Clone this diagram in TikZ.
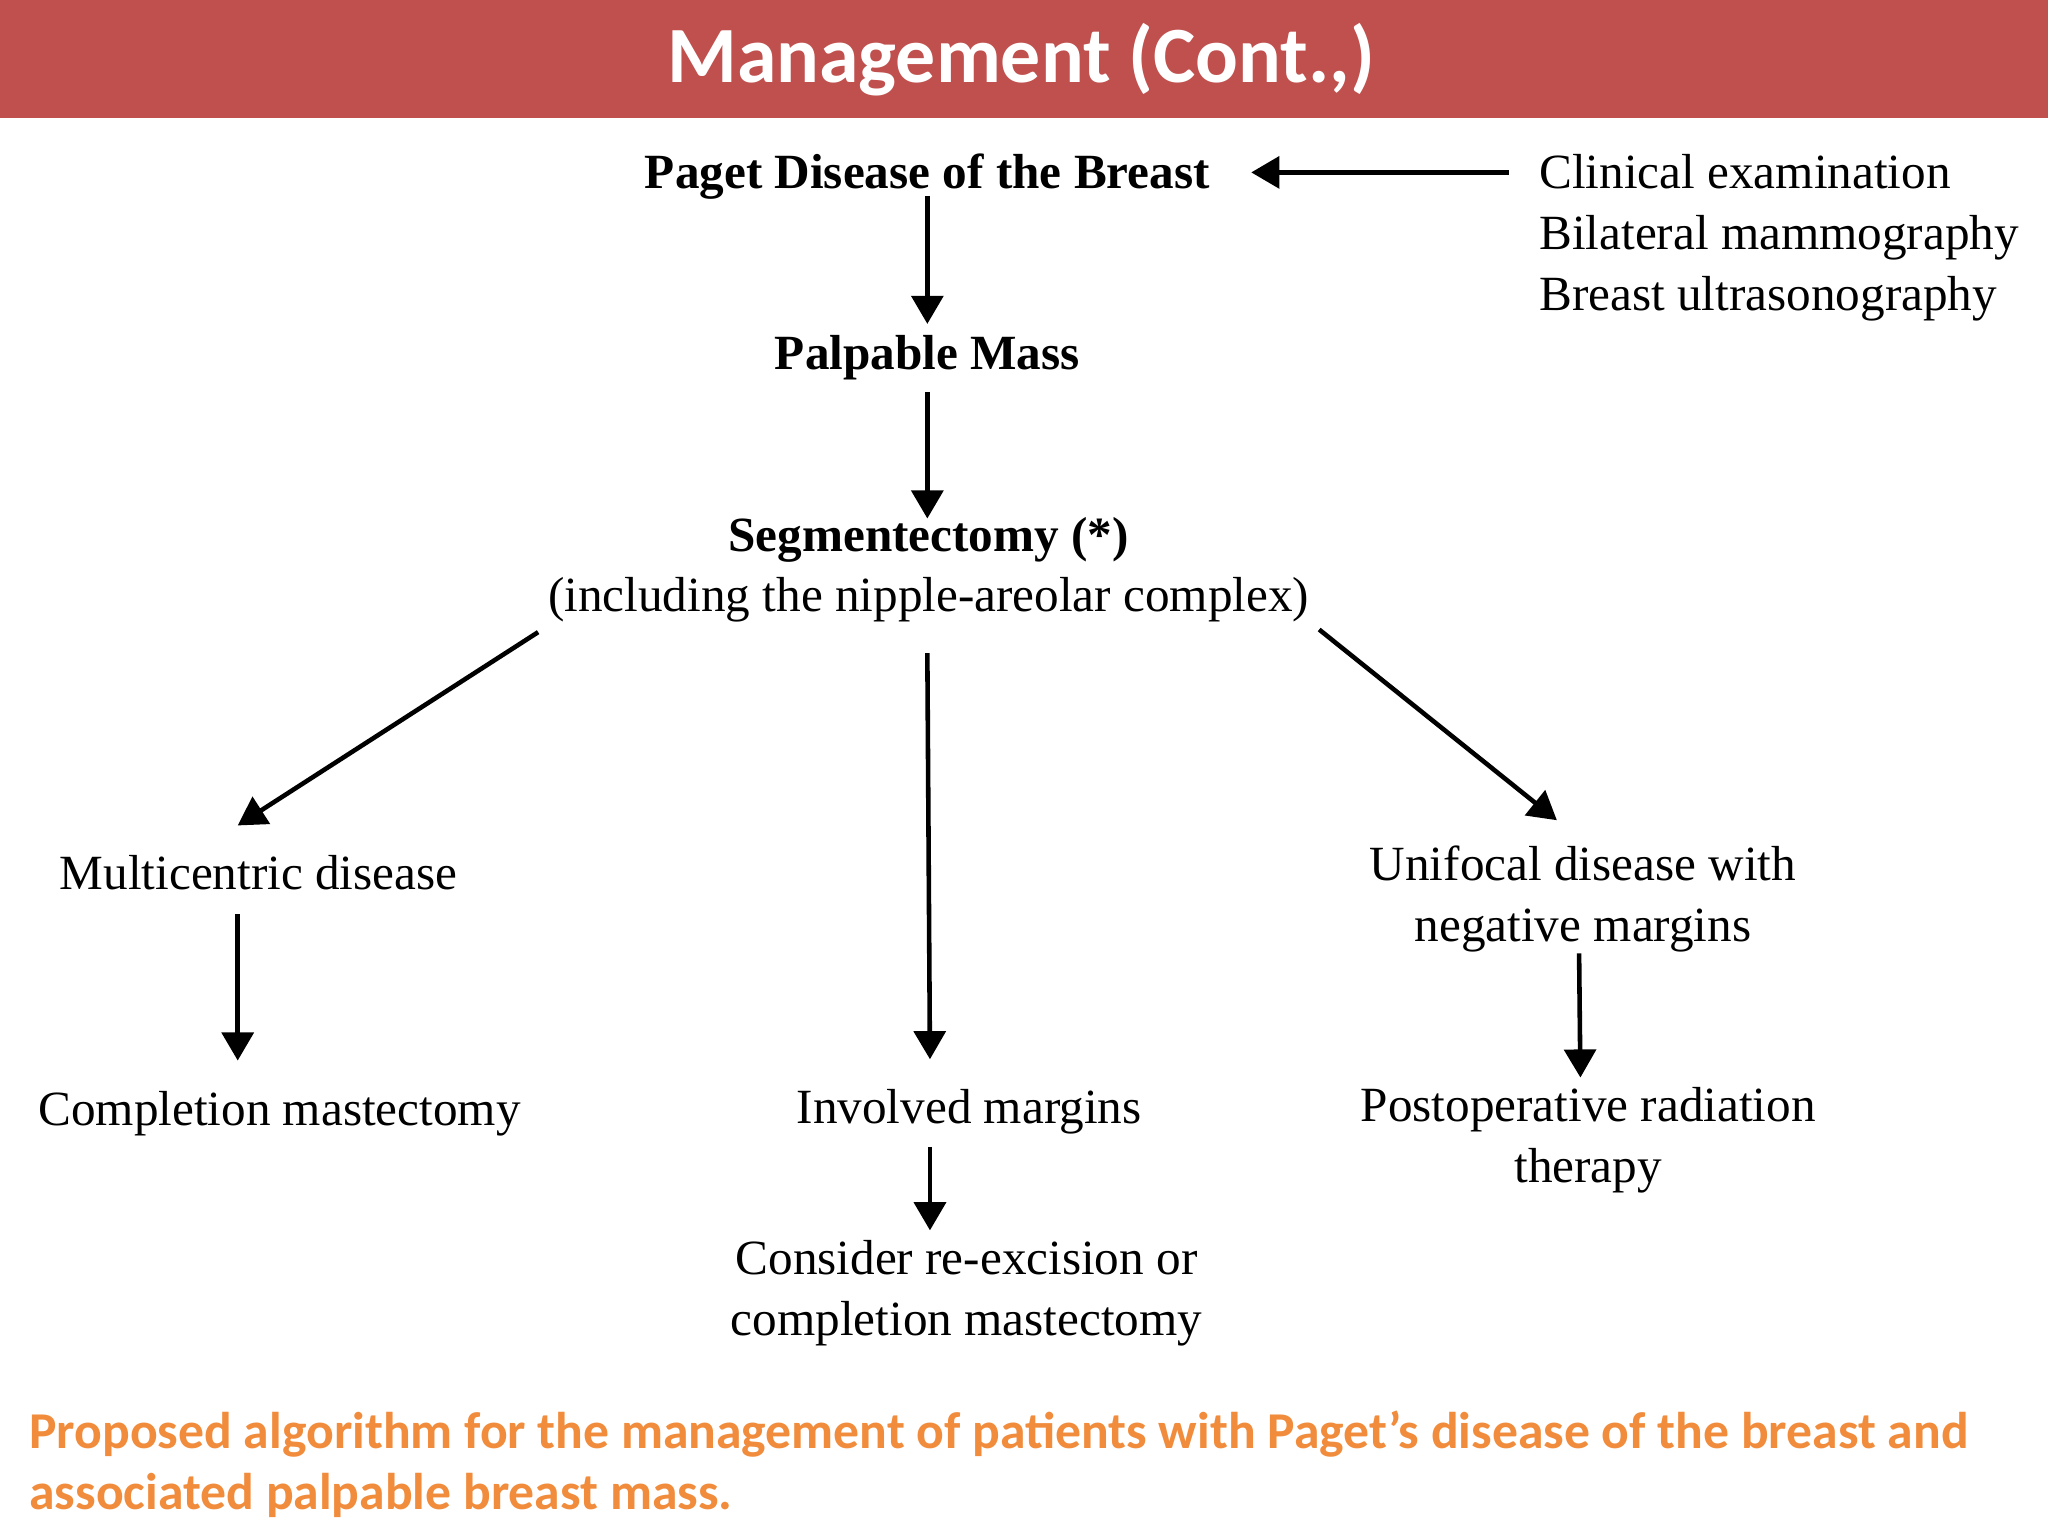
\documentclass[tikz,border=0pt]{standalone}
\usepackage{fontspec}
\setmainfont{Liberation Serif}
\newfontfamily\carl{Carlito}
\usetikzlibrary{arrows.meta}
\definecolor{barred}{HTML}{C0504D}
\definecolor{capor}{HTML}{F08C3C}
\begin{document}
\begin{tikzpicture}[x=0.013061cm,y=-0.013061cm,
  txt/.style={inner sep=0pt,align=center,font=\fontsize{14}{17.3}\selectfont},
  btxt/.style={txt,font=\fontsize{14}{17.3}\selectfont\bfseries},
  arr/.style={line width=1.3pt,-{Triangle[width=9pt,length=8pt]}}]
\useasboundingbox (0,0) rectangle (1568,1176);
\fill[barred] (0,0) rectangle (1568,90);
\node[inner sep=0pt,text=white,font=\carl\fontsize{22.7}{28}\selectfont\bfseries] (title) at (782,46) {Management (Cont.,)};
\node[btxt] (paget) at (710,135) {Paget Disease of the Breast};
\node[txt,align=left,anchor=north west] (clin) at (1178,118) {Clinical examination\\Bilateral mammography\\Breast ultrasonography};
\node[btxt] (palp) at (710,274) {Palpable Mass};
\node[btxt] (seg) at (711,413) {Segmentectomy (*)};
\node[txt] (incl) at (711,459) {(including the nipple-areolar complex)};
\node[txt] (multi) at (198,668) {Multicentric disease};
\node[txt] (compl) at (214,853) {Completion mastectomy};
\node[txt] (inv) at (742,851) {Involved margins};
\node[txt] (cons) at (740,990) {Consider re-excision or\\completion mastectomy};
\node[txt] (uni) at (1212,688) {Unifocal disease with\\negative margins};
\node[txt] (post) at (1216,873) {Postoperative radiation\\therapy};
\coordinate (c1) at (1155,132); \coordinate (c2) at (958,132);
\draw[arr] (c1) -- (c2);
\coordinate (a1) at (710,150); \coordinate (a2) at (710,248);
\draw[arr] (a1) -- (a2);
\coordinate (b1) at (710,300); \coordinate (b2) at (710,397);
\draw[arr] (b1) -- (b2);
\coordinate (d1) at (412,484); \coordinate (d2) at (182,632);
\draw[arr] (d1) -- (d2);
\coordinate (e1) at (710,500); \coordinate (e2) at (712,811);
\draw[arr] (e1) -- (e2);
\coordinate (f1) at (1010,482); \coordinate (f2) at (1192,628);
\draw[arr] (f1) -- (f2);
\coordinate (g1) at (182,700); \coordinate (g2) at (182,812);
\draw[arr] (g1) -- (g2);
\coordinate (h1) at (712,878); \coordinate (h2) at (712,942);
\draw[arr] (h1) -- (h2);
\coordinate (i1) at (1209,730); \coordinate (i2) at (1210,825);
\draw[arr] (i1) -- (i2);
\node[inner sep=0pt,anchor=north west,align=left,text=capor,font=\carl\fontsize{14.7}{17.3}\selectfont\bfseries] (cap) at (22,1080) {Proposed algorithm for the management of patients with Paget’s disease of the breast and\\associated palpable breast mass.};
\end{tikzpicture}
\end{document}
